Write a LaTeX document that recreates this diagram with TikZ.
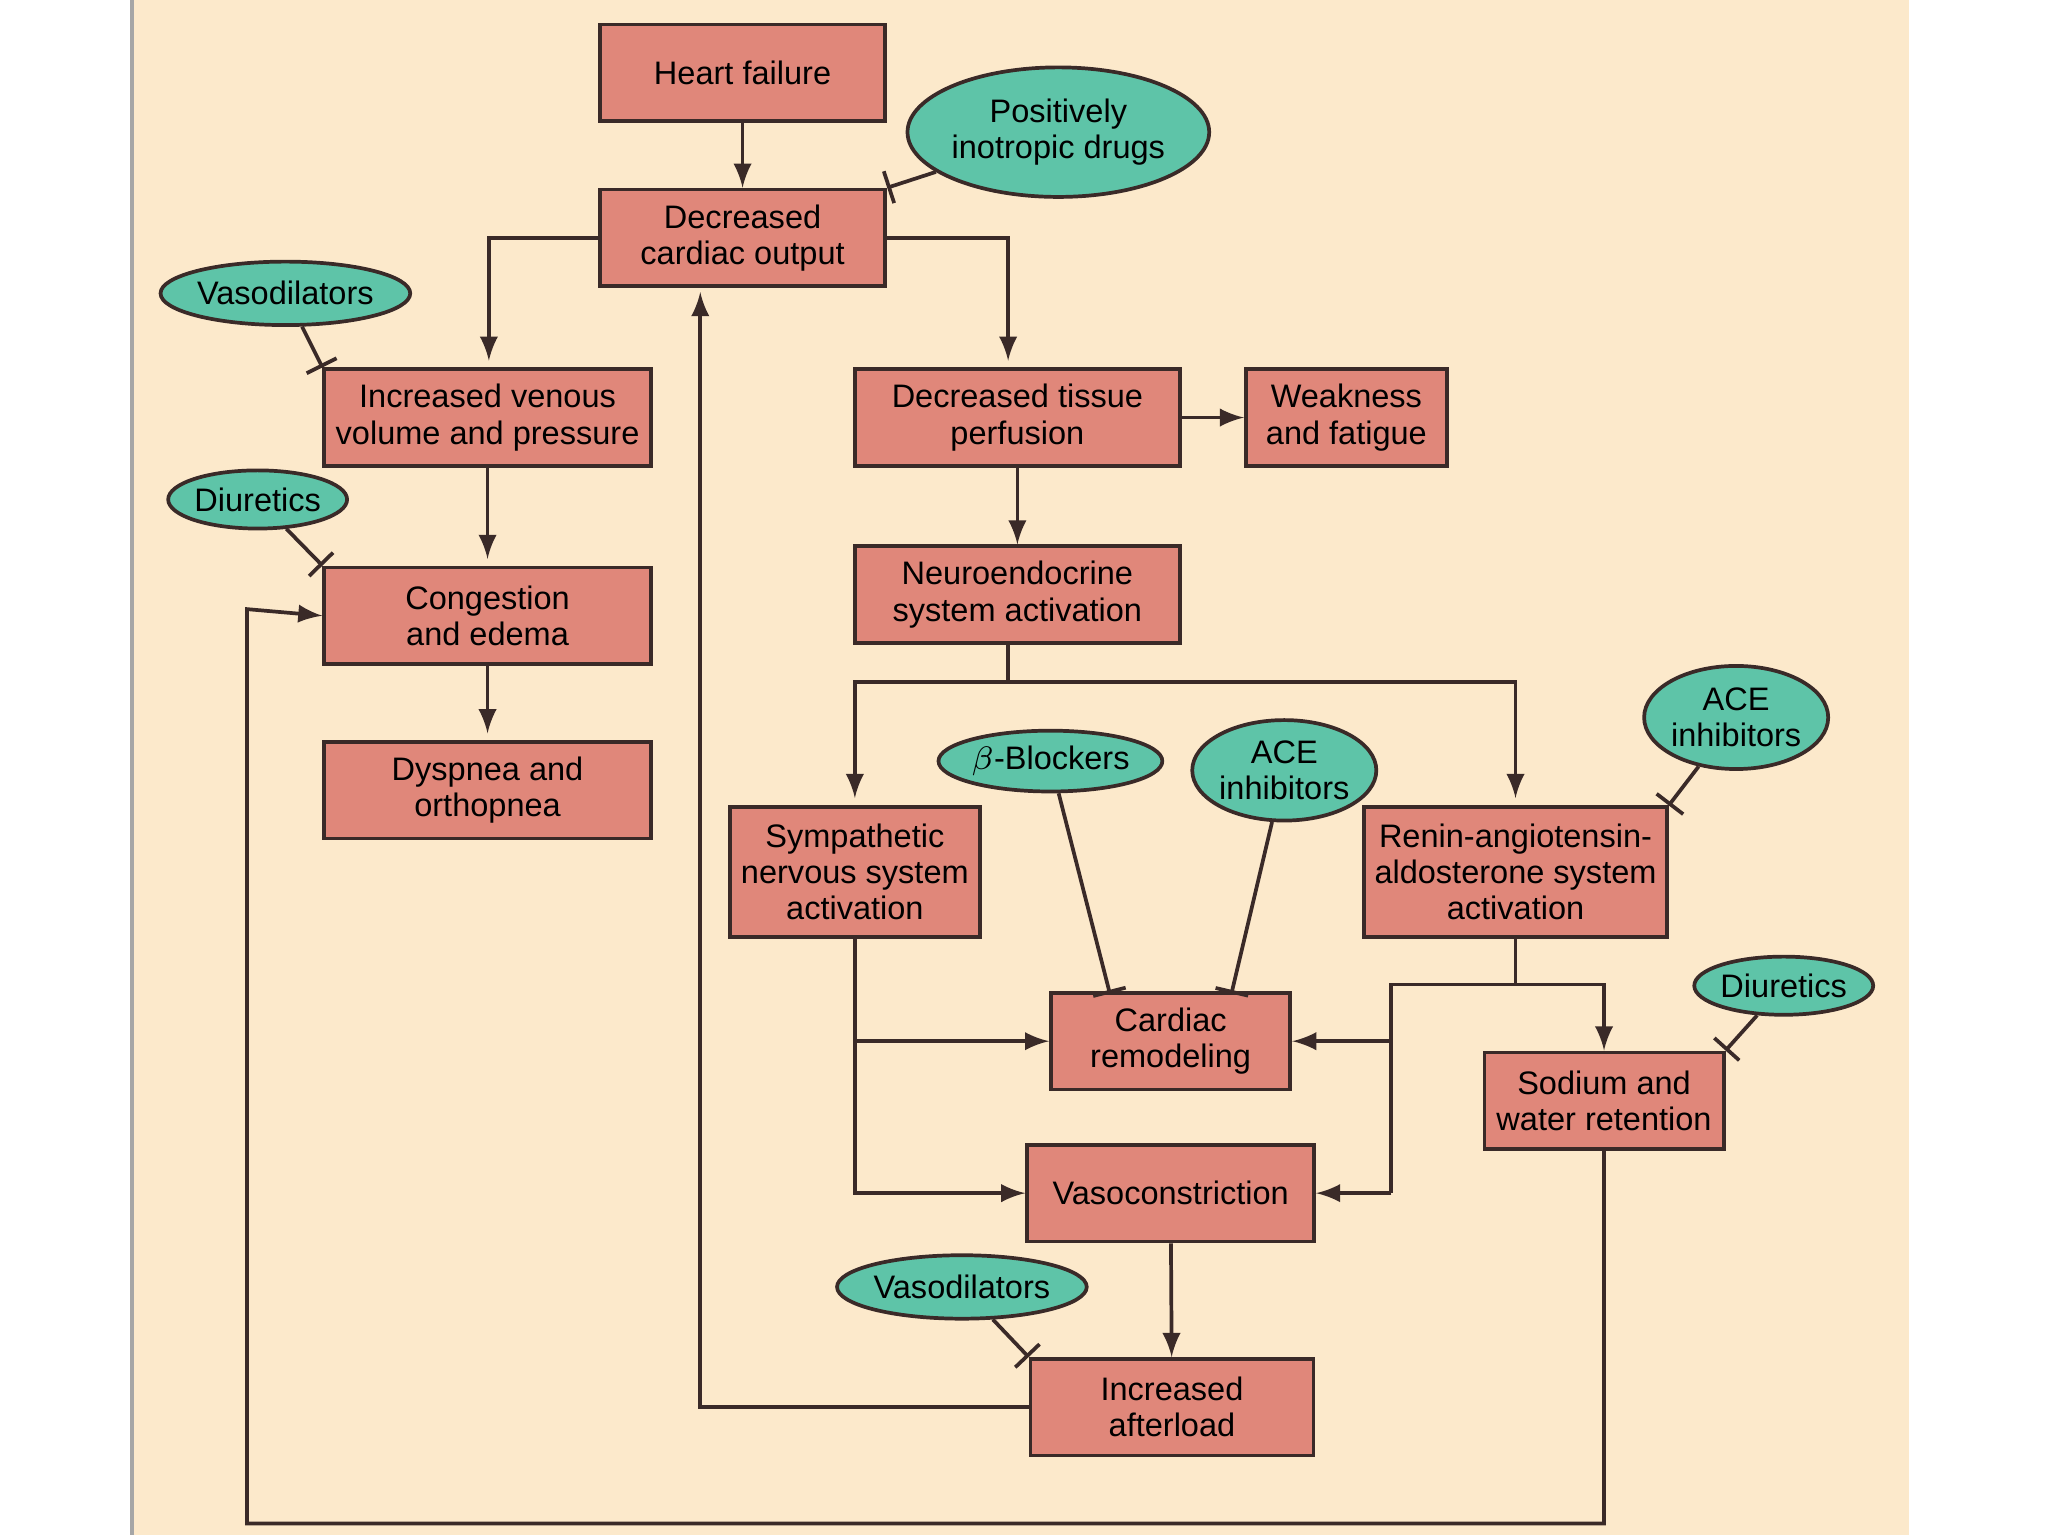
\documentclass[tikz,border=0pt]{standalone}
\usepackage{fontspec}
\setmainfont{Liberation Sans}
\usetikzlibrary{arrows,shapes,calc}
\definecolor{paper}{HTML}{FCE9CB}
\definecolor{boxred}{HTML}{E0877A}
\definecolor{drug}{HTML}{5EC4A8}
\definecolor{ink}{HTML}{3A2A28}
\tikzset{
  box/.style={rectangle, draw=ink, thick, fill=boxred, align=center, inner sep=0pt,
    font=\fontsize{7}{7.8}\selectfont},
  drugs/.style={ellipse, draw=ink, thick, fill=drug, align=center, inner sep=0pt,
    font=\fontsize{7}{7.8}\selectfont},
  connect/.style={-latex, thick, draw=ink},
  block/.style={-|, thick, draw=ink},
  line/.style={thick, draw=ink}
}
\begin{document}
\begin{tikzpicture}[x=0.01cm, y=-0.01cm]
\useasboundingbox (0,0) rectangle (1550,1162);
\fill[paper] (100,0) rectangle (1445,1162);
\draw[gray!70, thick] (100,0) -- (100,1162);

% boxes
\node[box, minimum width=2.16cm, minimum height=0.73cm] (hf)   at (562,55)  {Heart failure};
\node[box, minimum width=2.16cm, minimum height=0.73cm] (dco)  at (562,180) {Decreased\\cardiac output};
\node[box, minimum width=2.47cm, minimum height=0.73cm] (ivp)  at (369,316) {Increased venous\\volume and pressure};
\node[box, minimum width=2.46cm, minimum height=0.73cm] (dtp)  at (770,316) {Decreased tissue\\perfusion};
\node[box, minimum width=1.52cm, minimum height=0.73cm] (wf)   at (1019,316) {Weakness\\and fatigue};
\node[box, minimum width=2.47cm, minimum height=0.73cm] (ce)   at (369,466) {Congestion\\and edema};
\node[box, minimum width=2.46cm, minimum height=0.73cm] (nsa)  at (770,450) {Neuroendocrine\\system activation};
\node[box, minimum width=2.47cm, minimum height=0.73cm] (dys)  at (369,598) {Dyspnea and\\orthopnea};
\node[box, minimum width=1.89cm, minimum height=0.98cm] (sns)  at (647,660) {Sympathetic\\nervous system\\activation};
\node[box, minimum width=2.29cm, minimum height=0.98cm] (raas) at (1147,660) {Renin-angiotensin-\\aldosterone system\\activation};
\node[box, minimum width=1.81cm, minimum height=0.73cm] (cr)   at (886,788) {Cardiac\\remodeling};
\node[box, minimum width=1.81cm, minimum height=0.73cm] (swr)  at (1214,833) {Sodium and\\water retention};
\node[box, minimum width=2.17cm, minimum height=0.73cm] (vc)   at (886,903) {Vasoconstriction};
\node[box, minimum width=2.14cm, minimum height=0.73cm] (ia)   at (887,1065) {Increased\\afterload};

% drugs
\node[drugs, minimum width=1.98cm, minimum height=0.98cm] (pid)  at (801,100) {Positively\\inotropic drugs};
\node[drugs, minimum width=1.58cm, minimum height=0.48cm] (vas1) at (216,222) {Vasodilators};
\node[drugs, minimum width=1.20cm, minimum height=0.44cm] (diu1) at (195,378) {Diuretics};
\node[drugs, minimum width=1.58cm, minimum height=0.46cm] (bb)   at (795,576) {$\beta$-Blockers};
\node[drugs, minimum width=1.34cm, minimum height=0.76cm] (ace1) at (972,583) {ACE\\inhibitors};
\node[drugs, minimum width=1.34cm, minimum height=0.78cm] (ace2) at (1314,543) {ACE\\inhibitors};
\node[drugs, minimum width=1.20cm, minimum height=0.44cm] (diu2) at (1350,746) {Diuretics};
\node[drugs, minimum width=1.58cm, minimum height=0.48cm] (vas2) at (728,974) {Vasodilators};

% causes
\draw[connect] (hf) -- (dco);
\draw[connect] (dco.west) -| (370,273);
\draw[connect] (dco.east) -| (763,273);
\draw[connect] (ivp) -- (369,423);
\draw[connect] (ce) -- (369,555);
\draw[connect] (dtp) -- (wf);
\draw[connect] (dtp) -- (nsa);
\draw[line] (763,487) -- (763,516);
\draw[connect] (763,516) -| (647,604);
\draw[connect] (763,516) -| (1147,604);
\draw[connect] (sns.south) |- (vc);
\draw[connect] (647,788) -- (cr);
\draw[line] (raas.south) -- (1147,745) -| (1053,903);
\draw[connect] (1053,903) -- (vc);
\draw[connect] (1053,788) -- (cr);
\draw[connect] (1147,745) -| (swr.north);
\draw[connect] (vc) -- (ia);
\draw[connect] (ia.west) -| (530,221);
\draw[connect] (swr.south) -- (1214,1153) -| (187,461) -- (ce.west);

% blocks
\draw[block] (pid) -- (dco.north east);
\draw[block] (vas1) -- (ivp.north west);
\draw[block] (diu1) -- (ce.north west);
\draw[block] (ace2) -- (raas.north east);
\draw[block] (bb) -- (840,752);
\draw[block] (ace1) -- (932,752);
\draw[block] (diu2) -- (swr.north east);
\draw[block] (vas2) -- (ia.north west);
\end{tikzpicture}
\end{document}
